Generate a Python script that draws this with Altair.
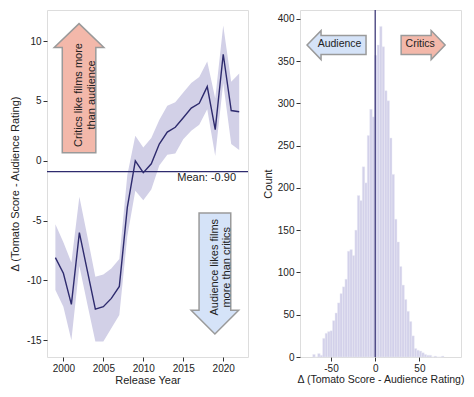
import altair as alt
import pandas as pd

# ---------------- data ----------------
years = list(range(1999, 2023))
delta_mean = [-8.1, -9.4, -12.0, -6.0, -9.2, -12.4, -12.2, -11.5, -10.5, -3.9,
              0.0, -1.0, -0.25, 1.4, 2.4, 2.8, 3.6, 4.4, 4.8, 6.2,
              2.6, 8.9, 4.2, 4.1]
delta_upper = [-5.3, -6.8, -8.5, -3.0, -6.3, -9.7, -9.5, -9.0, -8.2, -1.2,
               2.1, 1.1, 1.9, 3.4, 4.6, 4.9, 5.7, 6.5, 7.0, 8.3,
               5.2, 11.3, 6.6, 7.3]
delta_lower = [-10.8, -12.2, -15.0, -8.8, -12.0, -15.1, -15.1, -14.0, -12.9, -6.3,
               -2.5, -3.3, -2.4, -0.4, 0.5, 0.6, 1.8, 2.5, 3.0, 4.3,
               0.4, 6.5, 1.4, 0.9]
mean_delta = -0.90

bin_start_first = -70.6
bin_width = 2.8
hist_counts = [3, 0, 4, 2, 22, 28, 30, 31, 43, 52,
               64, 75, 83, 92, 125, 127, 120, 150, 191, 185,
               225, 206, 262, 293, 284, 357, 369, 391, 367, 315,
               303, 259, 216, 163, 136, 107, 85, 68, 54, 42,
               25, 10, 8, 7, 5, 3, 2, 2, 0, 1,
               0, 0, 1]

bin_starts = [round(bin_start_first + i * bin_width, 2) for i in range(len(hist_counts))]
bin_ends = [round(s + bin_width, 2) for s in bin_starts]

# ---------------- styling ----------------
FONT = "Liberation Sans"
LINE_C = "#2e2b6e"
BAND_C = "#d2d0e7"
BAR_C = "#d3d1ea"
RED_F = "#f3b8aa"
BLUE_F = "#d5e3f8"
ARROW_S = "#9a9a9a"
HYPHEN_LABEL = "datum.value < 0 ? '-' + abs(datum.value) : '' + datum.value"

line_df = pd.DataFrame({"year": years, "delta": delta_mean,
                        "upper": delta_upper, "lower": delta_lower})
hist_df = pd.DataFrame({"bin_start": bin_starts, "bin_end": bin_ends,
                        "count": hist_counts, "base": [0] * len(hist_counts)})

axis_common = dict(grid=False, domain=False, tickColor="#333", tickSize=4,
                   labelPadding=2, labelFontSize=10,
                   titleFontWeight="normal", labelColor="#222", titleColor="#222",
                   labelFont=FONT, titleFont=FONT)

xL = alt.X("year:Q",
           scale=alt.Scale(domain=[1997.95, 2023.1], nice=False, zero=False),
           axis=alt.Axis(values=[2000, 2005, 2010, 2015, 2020], format="d",
                         titlePadding=1.5, titleFontSize=11, **axis_common),
           title="Release Year")
yL = alt.Y("delta:Q",
           scale=alt.Scale(domain=[-16.4, 12.6], nice=False, zero=False),
           axis=alt.Axis(values=[-15, -10, -5, 0, 5, 10], titlePadding=6.5,
                         labelExpr=HYPHEN_LABEL, titleFontSize=11, **axis_common),
           title="Δ (Tomato Score - Audience Rating)")

band = alt.Chart(line_df).mark_area(color=BAND_C, opacity=1).encode(
    x=xL, y=yL, y2="upper:Q").transform_calculate(delta="datum.lower")
line = alt.Chart(line_df).mark_line(color=LINE_C, strokeWidth=1.4).encode(x=xL, y=yL)
mean_rule = alt.Chart(pd.DataFrame({"delta": [mean_delta]})).mark_rule(
    color=LINE_C, strokeWidth=1.2).encode(y=yL)
mean_text = alt.Chart(pd.DataFrame({"year": [2021.6], "delta": [-1.45],
                                    "t": [f"Mean: {mean_delta:.2f}"]})).mark_text(
    align="right", baseline="middle", fontSize=11, font=FONT, color="#222").encode(
    x=xL, y=yL, text="t:N")

up_path = "M0,-1L0.385,-0.63L0.26,-0.63L0.26,1L-0.26,1L-0.26,-0.63L-0.385,-0.63Z"
down_path = "M-0.262,-1L0.262,-1L0.262,0.607L0.393,0.607L0,1L-0.393,0.607L-0.262,0.607Z"
left_path = "M-1,0L-0.525,-0.49L-0.525,-0.322L1,-0.322L1,0.322L-0.525,0.322L-0.525,0.49Z"
right_path = "M-1,-0.43L0.364,-0.43L0.364,-0.66L1,0L0.364,0.66L0.364,0.43L-1,0.43Z"

up_arrow = alt.Chart(pd.DataFrame({"year": [2001.96], "delta": [6.07]})).mark_point(
    shape=up_path, size=129 * 129, filled=True, fill=RED_F, stroke=ARROW_S,
    strokeWidth=1.5, opacity=1).encode(x=xL, y=yL)
down_arrow = alt.Chart(pd.DataFrame({"year": [2018.96], "delta": [-9.42]})).mark_point(
    shape=down_path, size=121 * 121, filled=True, fill=BLUE_F, stroke=ARROW_S,
    strokeWidth=1.5, opacity=1).encode(x=xL, y=yL)
up_text = alt.Chart(pd.DataFrame({"year": [2001.96], "delta": [5.5],
                                  "t": ["Critics like films more\nthan audience"]})).mark_text(
    angle=270, align="center", baseline="middle", fontSize=11, font=FONT, color="#222",
    lineBreak="\n", lineHeight=12.5).encode(x=xL, y=yL, text="t:N")
down_text = alt.Chart(pd.DataFrame({"year": [2018.96], "delta": [-8.9],
                                    "t": ["Audience likes films\nmore than critics"]})).mark_text(
    angle=270, align="center", baseline="middle", fontSize=11, font=FONT, color="#222",
    lineBreak="\n", lineHeight=12.5).encode(x=xL, y=yL, text="t:N")

left = alt.layer(band, line, mean_rule, mean_text, up_arrow, down_arrow, up_text, down_text
                 ).properties(width=201, height=347)

xR = alt.X("bin_start:Q",
           scale=alt.Scale(domain=[-85, 97], nice=False, zero=False),
           axis=alt.Axis(values=[-50, 0, 50], titlePadding=1.5, titleFontSize=10.5,
                         labelExpr=HYPHEN_LABEL, **axis_common),
           title="Δ (Tomato Score - Audience Rating)")
yR = alt.Y("count:Q",
           scale=alt.Scale(domain=[0, 410.5], nice=False, zero=True),
           axis=alt.Axis(values=[0, 50, 100, 150, 200, 250, 300, 350, 400],
                         titlePadding=4, titleFontSize=11, **axis_common),
           title="Count")

bars = alt.Chart(hist_df).mark_bar(color=BAR_C, stroke="#ecebf5", strokeWidth=0.4,
                                   opacity=1).encode(x=xR, x2="bin_end:Q", y=yR, y2="base:Q")
zero_rule = alt.Chart(pd.DataFrame({"bin_start": [0]})).mark_rule(
    color=LINE_C, strokeWidth=1.2).encode(x=xR)
aud_arrow = alt.Chart(pd.DataFrame({"bin_start": [-43.7], "count": [369]})).mark_point(
    shape=left_path, size=59 * 59, filled=True, fill=BLUE_F, stroke=ARROW_S,
    strokeWidth=1.5, opacity=1).encode(x=xR, y=yR)
cri_arrow = alt.Chart(pd.DataFrame({"bin_start": [54.2], "count": [369]})).mark_point(
    shape=right_path, size=44 * 44, filled=True, fill=RED_F, stroke=ARROW_S,
    strokeWidth=1.5, opacity=1).encode(x=xR, y=yR)
aud_text = alt.Chart(pd.DataFrame({"bin_start": [-40.3], "count": [370.5], "t": ["Audience"]})).mark_text(
    align="center", baseline="middle", fontSize=10.5, font=FONT, color="#222").encode(
    x=xR, y=yR, text="t:N")
cri_text = alt.Chart(pd.DataFrame({"bin_start": [50.8], "count": [370.5], "t": ["Critics"]})).mark_text(
    align="center", baseline="middle", fontSize=10.5, font=FONT, color="#222").encode(
    x=xR, y=yR, text="t:N")

right = alt.layer(bars, zero_rule, aud_arrow, cri_arrow, aud_text, cri_text
                  ).properties(width=161, height=347)

chart = alt.hconcat(left, right, spacing=11).properties(
    padding={"left": 0, "top": 0, "right": 0, "bottom": 0}
).configure_view(stroke="#333", strokeWidth=1).configure(font=FONT)

chart.save("out.html", embed_options={"renderer": "svg", "actions": False})
